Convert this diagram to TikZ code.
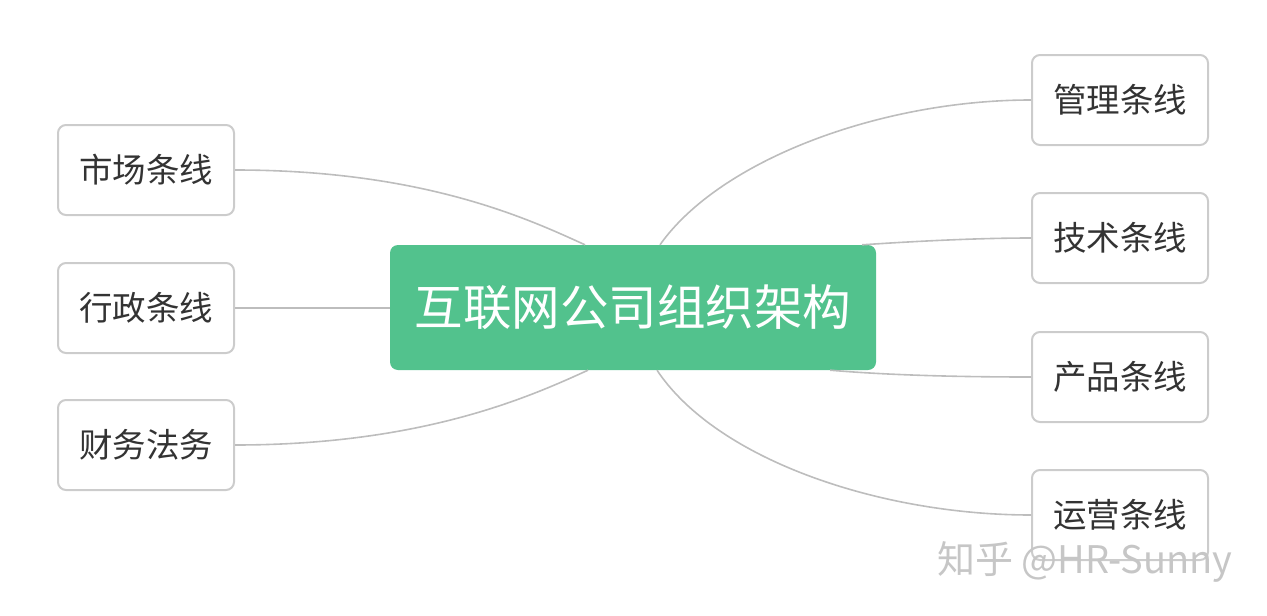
\documentclass[tikz,border=0pt]{standalone}
\usepackage{fontspec}
\usepackage{xcolor}
\newfontfamily\cjk{Noto Sans CJK SC}
\definecolor{rootgreen}{HTML}{52C28D}
\definecolor{boxgray}{HTML}{CCCCCC}
\definecolor{linegray}{HTML}{BDBDBD}
\definecolor{textgray}{HTML}{333333}

\begin{document}
\begin{tikzpicture}[x=1pt,y=-1pt]
\tikzstyle{every node}=[font=\cjk]
\tikzstyle{branch}=[draw=boxgray,line width=2pt,rounded corners=8pt,minimum width=176pt,minimum height=90pt,text=textgray,font=\cjk\fontsize{33.5}{36}\selectfont]
\tikzstyle{link}=[draw=linegray,line width=1.6pt]
\useasboundingbox (0,0) rectangle (1267,616);

\node at (633,307.5) [fill=rootgreen,rounded corners=8pt,minimum width=486pt,minimum height=125pt,text=white,font=\cjk\fontsize{48.5}{52}\selectfont] (root) {互联网公司组织架构};

\node at (146,170) [branch] (market) {市场条线};
\node at (146,308) [branch] (admin) {行政条线};
\node at (146,445) [branch] (finance) {财务法务};

\node at (1120,100) [branch] (manage) {管理条线};
\node at (1120,238) [branch] (tech) {技术条线};
\node at (1120,377) [branch] (product) {产品条线};
\node at (1120,515) [branch] (ops) {运营条线};

\path [link] (market.east) .. controls +(190,0) and +(-55,-25) .. ([xshift=-48pt]root.north);
\path [link] (admin.east) -- (root.west |- admin.east);
\path [link] (finance.east) .. controls +(190,0) and +(-55,25) .. ([xshift=-45pt]root.south);

\path [link] ([xshift=27pt]root.north) .. controls +(60,-85) and +(-150,0) .. (manage.west);
\path [link] ([xshift=-14pt]root.north east) .. controls +(60,-4) and +(-50,0) .. (tech.west);
\path [link] ([xshift=-46pt]root.south east) .. controls +(70,6) and +(-50,0) .. (product.west);
\path [link] ([xshift=24pt]root.south) .. controls +(60,90) and +(-150,0) .. (ops.west);

\node at (1085,562) [text=gray!45,font=\cjk\fontsize{38}{42}\selectfont] (mark) {知乎 @HR-Sunny};
\end{tikzpicture}
\end{document}
